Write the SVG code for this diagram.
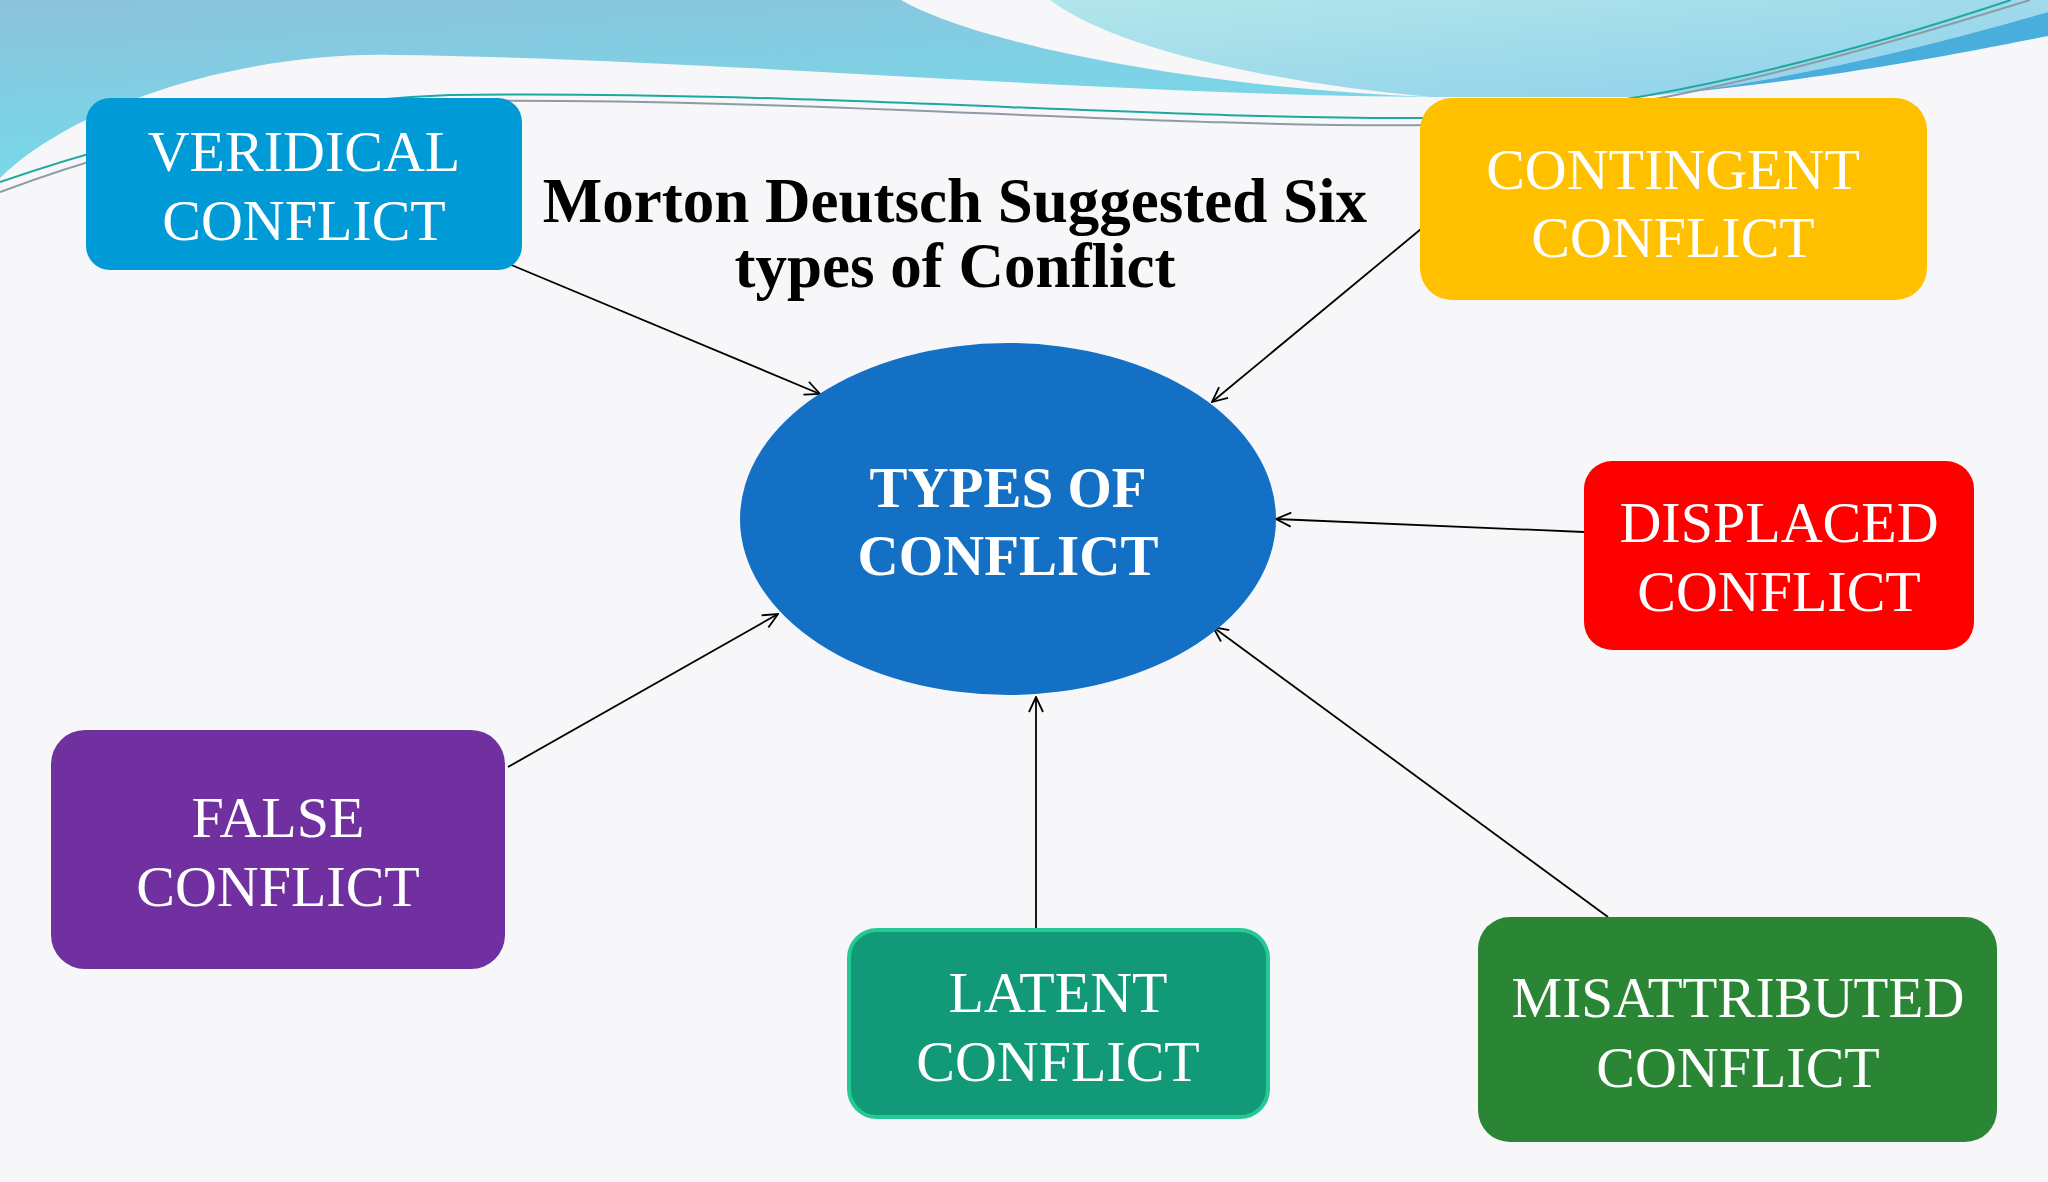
<svg xmlns="http://www.w3.org/2000/svg" width="2048" height="1182" viewBox="0 0 2048 1182">
<defs>
<linearGradient id="gL" x1="0" y1="0" x2="0.4" y2="1">
<stop offset="0" stop-color="#8CC2DC"/>
<stop offset="1" stop-color="#74DCEA"/>
</linearGradient>
<linearGradient id="gR" x1="0" y1="0" x2="1" y2="1">
<stop offset="0" stop-color="#B2E6EA"/>
<stop offset="1" stop-color="#8ED0EC"/>
</linearGradient>
<marker id="arr" viewBox="0 0 20 20" refX="19" refY="10" markerWidth="20" markerHeight="20" markerUnits="userSpaceOnUse" orient="auto">
<path d="M4,3 L19,10 L4,17" fill="none" stroke="#000" stroke-width="1.8"/>
</marker>
<style>
.box text{font-family:"Liberation Serif","Times New Roman",serif;font-size:58px;fill:#fff;text-anchor:middle}
.conn line{stroke:#000;stroke-width:1.8;marker-end:url(#arr)}
.title{font-family:"Liberation Serif","Times New Roman",serif;font-size:63px;font-weight:bold;fill:#000;text-anchor:middle}
</style>
</defs>
<rect width="2048" height="1182" fill="#F7F7F9"/>
<g id="decor">
<path d="M0,0 H901 C980,45 1200,88 1430,97 C1100,95 700,58 392,55 C250,52 80,100 0,178 Z" fill="url(#gL)"/>
<path d="M1050,0 H2048 V12 C1900,55 1750,88 1633,97 L1430,97 C1250,80 1110,45 1050,0 Z" fill="url(#gR)"/>
<path d="M2048,12 C1900,55 1750,88 1633,97 C1780,86 1930,60 2048,36 Z" fill="#4AAEDC"/>
<path d="M0,182 C150,130 300,100 450,95 C800,90 1150,120 1430,118 C1600,115 1800,70 2011,0" fill="none" stroke="#1FA8A0" stroke-width="2"/>
<path d="M0,192 C150,136 300,106 450,101 C800,97 1150,128 1430,125 C1620,120 1820,65 2030,0" fill="none" stroke="#8E9AA6" stroke-width="2"/>
</g>
<g class="conn" id="connectors">
<line x1="509" y1="264" x2="820" y2="394"/>
<line x1="1421" y1="229" x2="1212" y2="402"/>
<line x1="1584" y1="532" x2="1276" y2="519"/>
<line x1="1608" y1="917" x2="1213" y2="627"/>
<line x1="1036" y1="930" x2="1036" y2="697"/>
<line x1="508" y1="767" x2="778" y2="614"/>
</g>
<g id="title">
<text class="title" x="955" y="222">Morton Deutsch Suggested Six</text>
<text class="title" x="955" y="287">types of Conflict</text>
</g>
<g id="center" class="box">
<ellipse cx="1008" cy="519" rx="268" ry="176" fill="#1370C5"/>
<text x="1008" y="507" font-weight="bold" style="font-size:57px">TYPES OF</text>
<text x="1008" y="575" font-weight="bold" style="font-size:57px">CONFLICT</text>
</g>
<g id="veridical" class="box">
<rect x="86" y="98" width="436" height="172" rx="24" fill="#009BD6"/>
<text x="304" y="171">VERIDICAL</text>
<text x="304" y="240">CONFLICT</text>
</g>
<g id="contingent" class="box">
<rect x="1420" y="98" width="507" height="202" rx="32" fill="#FFC000"/>
<text x="1673" y="189">CONTINGENT</text>
<text x="1673" y="257">CONFLICT</text>
</g>
<g id="displaced" class="box">
<rect x="1584" y="461" width="390" height="189" rx="28" fill="#FF0000"/>
<text x="1779" y="542">DISPLACED</text>
<text x="1779" y="611">CONFLICT</text>
</g>
<g id="misattributed" class="box">
<rect x="1478" y="917" width="519" height="225" rx="32" fill="#2A8535"/>
<text x="1738" y="1017" style="font-size:57px">MISATTRIBUTED</text>
<text x="1738" y="1087">CONFLICT</text>
</g>
<g id="latent" class="box">
<rect x="849" y="930" width="419" height="187" rx="28" fill="#129977" stroke="#25C996" stroke-width="4"/>
<text x="1058" y="1012">LATENT</text>
<text x="1058" y="1081">CONFLICT</text>
</g>
<g id="false" class="box">
<rect x="51" y="730" width="454" height="239" rx="34" fill="#7030A0"/>
<text x="278" y="837">FALSE</text>
<text x="278" y="906">CONFLICT</text>
</g>
</svg>
